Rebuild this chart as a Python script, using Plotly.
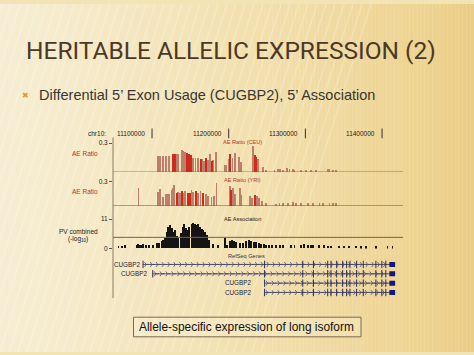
import plotly.graph_objects as go
import numpy as np

W, H = 474, 355

# ---------------- data (positions in kb on chr10) ----------------
ruler_ticks = [11100, 11200, 11300, 11400]
ruler_labels = ["11100000", "11200000", "11300000", "11400000"]

ceu_pos = [11107.4, 11110.5, 11114.8, 11117.8, 11122.6, 11132.1, 11134.3, 11138.6, 11140.8,
           11142.9, 11153.7, 11156.8, 11160.2, 11165.9, 11168.0, 11172.8, 11175.4, 11179.7,
           11183.2, 11194.9, 11197.1, 11200.5, 11204.8, 11207.9, 11213.5, 11215.7, 11231.7,
           11238.2, 11244.7, 11249.0, 11259.8, 11264.2, 11267.2, 11270.7, 11275.9, 11279.3,
           11283.7, 11285.8, 11294.5, 11301.0, 11307.5, 11314.0, 11329.1, 11331.3, 11335.6, 11339.9]
ceu_val = [0.166, 0.166, 0.166, 0.166, 0.166, 0.190, 0.183, 0.224, 0.217,
           0.207, 0.148, 0.148, 0.148, 0.138, 0.114, 0.121, 0.190, 0.121,
           0.207, 0.069, 0.069, 0.138, 0.148, 0.197, 0.155, 0.103, 0.266,
           0.138, 0.052, 0.017, 0.024, 0.028, 0.031, 0.024, 0.041, 0.031,
           0.034, 0.024, 0.017, 0.010, 0.010, 0.010, 0.034, 0.028, 0.017, 0.017]
ceu_red_pos = [11127.8, 11129.9, 11145.9, 11148.1, 11150.3, 11163.3, 11170.6, 11177.6,
               11202.2, 11233.9, 11236.0]
ceu_red_val = [0.190, 0.190, 0.197, 0.190, 0.172, 0.138, 0.148, 0.114,
               0.190, 0.172, 0.155]

yri_pos = [11082.3, 11107.4, 11110.5, 11114.8, 11117.8, 11120.0, 11122.6, 11125.6, 11127.8,
           11129.1, 11134.3, 11136.4, 11140.8, 11142.9, 11151.6, 11153.7, 11160.2, 11163.3,
           11170.2, 11173.2, 11177.6, 11180.6, 11184.1, 11201.4, 11205.7, 11207.9, 11214.4,
           11216.5, 11227.4, 11230.8, 11236.9, 11239.5, 11243.8, 11249.0, 11262.0, 11266.3,
           11270.7, 11277.2, 11283.7, 11288.0, 11294.5, 11303.1, 11309.6, 11318.3, 11322.6,
           11331.3, 11335.6, 11339.9]
yri_val = [0.214, 0.168, 0.207, 0.105, 0.144, 0.137, 0.137, 0.195, 0.214,
           0.253, 0.168, 0.156, 0.156, 0.183, 0.195, 0.168, 0.156, 0.176,
           0.137, 0.117, 0.105, 0.117, 0.273, 0.242, 0.214, 0.137, 0.214,
           0.129, 0.117, 0.098, 0.117, 0.090, 0.059, 0.027, 0.020, 0.027,
           0.027, 0.031, 0.039, 0.035, 0.027, 0.035, 0.027, 0.031, 0.035,
           0.035, 0.027, 0.027]
yri_red_pos = [11132.1, 11138.6, 11147.3, 11149.4, 11157.2, 11166.7, 11203.5, 11233.9]
yri_red_val = [0.156, 0.176, 0.156, 0.156, 0.176, 0.156, 0.195, 0.129]

pv_pos = [11056.3, 11060.7, 11065.0, 11080.1, 11082.3, 11084.5, 11086.6, 11088.8, 11092.3,
          11096.6, 11100.9, 11106.1, 11109.6, 11112.6, 11114.8, 11116.9, 11119.1, 11121.3,
          11123.4, 11125.6, 11127.8, 11129.9, 11132.1, 11134.3, 11137.3, 11139.9, 11141.6,
          11144.2, 11145.9, 11148.6, 11151.6, 11153.7, 11155.9, 11158.1, 11160.2, 11162.4,
          11164.6, 11166.7, 11168.9, 11171.1, 11174.5, 11179.7, 11186.2, 11194.9, 11197.9,
          11202.2, 11204.4, 11206.6, 11210.0, 11214.4, 11218.7, 11223.0, 11226.5, 11229.5,
          11232.6, 11236.0, 11239.5, 11242.5, 11245.5, 11249.0, 11252.5, 11256.8, 11262.0,
          11267.2, 11270.7, 11281.5, 11285.8, 11294.5, 11298.8, 11303.1, 11307.5, 11310.5,
          11318.3, 11324.8, 11329.1, 11333.4, 11344.3, 11350.8, 11357.3, 11365.9, 11372.4,
          11378.9, 11391.9, 11407.1, 11413.6]
pv_val = [0.85, 0.85, 1.2, 1.45, 1.7, 1.45, 1.45, 1.7, 1.45,
          1.2, 1.45, 2.06, 2.06, 2.9, 3.26, 3.87, 6.05, 8.1,
          8.7, 7.5, 6.3, 6.9, 4.47, 3.87, 5.68, 8.1, 8.95,
          7.5, 6.9, 8.1, 8.95, 9.67, 9.3, 8.7, 8.95, 8.1,
          7.25, 6.9, 6.05, 5.08, 3.26, 1.7, 1.45, 3.87, 1.45,
          2.9, 3.26, 2.9, 2.42, 2.06, 2.06, 2.9, 3.26, 2.9,
          2.42, 2.42, 2.06, 1.7, 1.7, 1.45, 1.45, 1.2, 1.2,
          1.45, 1.2, 1.45, 1.2, 1.45, 1.7, 1.45, 1.2, 1.45,
          1.2, 1.2, 0.97, 0.97, 0.85, 0.85, 0.85, 0.85, 0.73,
          0.73, 0.73, 0.73, 0.73]
pv_threshold = 4.2

tx_names = ["CUGBP2", "CUGBP2", "CUGBP2", "CUGBP2"]
tx_start = [11088.3, 11100.9, 11246.8, 11246.8]
tx_end = [11417.0, 11417.0, 11417.0, 11417.0]
shared_exons = [11246.8, 11296.6, 11310.5, 11329.1, 11333.4, 11340.8, 11348.6, 11353.8,
                11358.1, 11366.8, 11375.5, 11391.9, 11399.7, 11404.9]
last_exon = [11409.5, 11417.0]

# ---------------- helpers ----------------
def px(x):
    return x / W

def py(y):
    return 1 - y / H

def hexrgb(h):
    h = h.lstrip('#')
    return [int(h[i:i + 2], 16) for i in (0, 2, 4)]

fig = go.Figure()

# background gradient
stops_x = [0, 120, 240, 360, 430, 474]
stops_c = [hexrgb(c) for c in ['#f7eed4', '#f5e8c4', '#f3e1b0', '#f0d89c', '#eed38e', '#ebcc84']]
shapes = []
n = 60
for i in range(n):
    x0 = i * W / n
    x1 = (i + 1) * W / n + 0.5
    xm = (x0 + x1) / 2
    c = [int(np.interp(xm, stops_x, [s[k] for s in stops_c])) for k in range(3)]
    shapes.append(dict(type='rect', xref='paper', yref='paper', x0=px(x0), x1=px(min(x1, W)),
                       y0=0, y1=1, fillcolor='rgb(%d,%d,%d)' % tuple(c), line_width=0, layer='below'))
# faint texture: diagonal stripes on the left, vertical stripes on the right
for k in range(-20, 30):
    xb = k * 9
    shapes.append(dict(type='line', xref='paper', yref='paper', x0=px(xb), y0=0, x1=px(xb + 110), y1=1,
                       line=dict(color='rgba(255,255,255,0.22)', width=1.5), layer='below'))
for k in range(0, 60):
    xv = 250 + k * 3.8
    shapes.append(dict(type='line', xref='paper', yref='paper', x0=px(xv), y0=0, x1=px(xv), y1=1,
                       line=dict(color='rgba(255,255,255,0.13)', width=1), layer='below'))

BAR_LIGHT = '#bd7f6c'
BAR_RED = '#cf2a1c'

fig.add_trace(go.Bar(x=ceu_pos, y=ceu_val, width=1.0, marker=dict(color=BAR_LIGHT, line_width=0),
                     xaxis='x', yaxis='y'))
fig.add_trace(go.Bar(x=ceu_red_pos, y=ceu_red_val, width=1.4, marker=dict(color=BAR_RED, line_width=0),
                     xaxis='x', yaxis='y'))
fig.add_trace(go.Bar(x=yri_pos, y=yri_val, width=1.0, marker=dict(color=BAR_LIGHT, line_width=0),
                     xaxis='x', yaxis='y2'))
fig.add_trace(go.Bar(x=yri_red_pos, y=yri_red_val, width=1.4, marker=dict(color=BAR_RED, line_width=0),
                     xaxis='x', yaxis='y2'))
fig.add_trace(go.Bar(x=pv_pos, y=pv_val, width=1.25, marker=dict(color='#141414', line_width=0),
                     xaxis='x', yaxis='y3'))

# gene models
GENE = '#2f2f58'
for i, (s, e) in enumerate(zip(tx_start, tx_end)):
    r = i + 1
    fig.add_trace(go.Scatter(x=[s, e], y=[r, r], mode='lines', line=dict(color=GENE, width=0.8),
                             xaxis='x', yaxis='y4'))
    chev = np.arange(s + 4, last_exon[0] - 2, 7.6)
    fig.add_trace(go.Scatter(x=chev, y=[r] * len(chev), mode='markers',
                             marker=dict(symbol='y-right', size=4, line=dict(color='#4a4a78', width=0.8)),
                             xaxis='x', yaxis='y4'))
    ex = ([s] if s < shared_exons[0] else []) + shared_exons
    xs, ys = [], []
    for p in ex:
        xs += [p, p, None]
        ys += [r - 0.4, r + 0.4, None]
    fig.add_trace(go.Scatter(x=xs, y=ys, mode='lines', line=dict(color=GENE, width=1),
                             xaxis='x', yaxis='y4'))
    fig.add_trace(go.Scatter(x=last_exon, y=[r, r], mode='lines', line=dict(color='#16167a', width=5),
                             xaxis='x', yaxis='y4'))

# baselines / threshold
LINE = '#7a5f4c'
shapes.append(dict(type='line', xref='x domain', yref='y', x0=0, x1=1, y0=0, y1=0, line=dict(color=LINE, width=1)))
shapes.append(dict(type='line', xref='x domain', yref='y2', x0=0, x1=1, y0=0, y1=0, line=dict(color=LINE, width=1)))
shapes.append(dict(type='line', xref='x domain', yref='y3', x0=0, x1=1, y0=pv_threshold, y1=pv_threshold,
                   line=dict(color=LINE, width=1)))
# left axis line
shapes.append(dict(type='line', xref='paper', yref='paper', x0=px(113), x1=px(113), y0=py(300), y1=py(136),
                   line=dict(color='#8c7b66', width=1)))
# ruler ticks
for t in ruler_ticks:
    shapes.append(dict(type='line', xref='x', yref='paper', x0=t, x1=t, y0=py(137), y1=py(127),
                       line=dict(color='#333', width=1)))
# caption box
shapes.append(dict(type='rect', xref='paper', yref='paper', x0=px(133.5), x1=px(361), y0=py(339.5), y1=py(319.5),
                   line=dict(color='#7d6a4c', width=1), fillcolor='rgba(255,248,225,0.25)'))

ann = []
SMALL = 'Liberation Sans, Arial, sans-serif'

def A(text, x, y, size, color, xanchor='center', family=SMALL, **kw):
    d = dict(text=text, x=px(x), y=py(y), xref='paper', yref='paper', showarrow=False, xanchor=xanchor,
             yanchor='middle', font=dict(size=size, color=color, family=family))
    d.update(kw)
    ann.append(d)

A('HERITABLE ALLELIC EXPRESSION (2)', 231, 47, 24.5, '#4b3925', family='Roboto, Liberation Sans, sans-serif')
A('✖', 25, 93, 8, '#e39a2c')
A('Differential 5’ Exon Usage (CUGBP2), 5’ Association', 37, 93, 14.5, '#3a3631', xanchor='left')

A('chr10:', 108, 132.5, 6.5, '#222', xanchor='right')
for t, lab in zip(ruler_ticks, ruler_labels):
    ann.append(dict(text=lab, x=t, y=py(132.5), xref='x', yref='paper', showarrow=False, xanchor='right',
                    yanchor='middle', xshift=-5, font=dict(size=6.5, color='#222', family=SMALL)))

A('AE Ratio', 85, 153, 6.5, '#b2372a')
A('AE Ratio', 85, 191, 6.5, '#b2372a')
A('PV combined', 78, 232, 6.5, '#222')
A('(-log<sub>10</sub>)', 78, 240, 6.5, '#222')

A('AE Ratio (CEU)', 243, 141, 5.6, '#b2372a')
A('AE Ratio (YRI)', 243, 180, 5.6, '#b2372a')
A('AE Association', 243, 219, 5.6, '#222')
A('RefSeq Genes', 247, 257.5, 5.6, '#33334f')

A('CUGBP2', 142, 265.5, 6.3, '#1e1e3c', xanchor='right')
A('CUGBP2', 149, 275, 6.3, '#1e1e3c', xanchor='right')
A('CUGBP2', 253, 284.5, 6.3, '#1e1e3c', xanchor='right')
A('CUGBP2', 253, 294, 6.3, '#1e1e3c', xanchor='right')

A('Allele-specific expression of long isoform', 247, 329.5, 11.9, '#111')

yax = dict(showgrid=False, zeroline=False, showline=False, ticks='outside', ticklen=3, tickcolor='#555',
           tickwidth=1, tickfont=dict(size=6.5, color='#222', family=SMALL), anchor='x', fixedrange=True)

fig.update_layout(
    width=W, height=H, margin=dict(l=0, r=0, t=0, b=0), autosize=False,
    paper_bgcolor='#f3e4b6', plot_bgcolor='rgba(0,0,0,0)', showlegend=False, bargap=0,
    xaxis=dict(domain=[px(113), px(403)], range=[11049.1, 11427.3], visible=False, anchor='y4'),
    yaxis=dict(yax, domain=[py(171.5), py(142)], range=[0, 0.3], tickvals=[0.3], ticktext=['0.3']),
    yaxis2=dict(yax, domain=[py(206), py(181)], range=[0, 0.3], tickvals=[0.3], ticktext=['0.3']),
    yaxis3=dict(yax, domain=[py(249.5), py(219.5)], range=[0, 11], tickvals=[0, 11], ticktext=['0', '11']),
    yaxis4=dict(domain=[py(300), py(260)], range=[4.6, 0.4], visible=False, anchor='x'),
    shapes=shapes, annotations=ann,
)

fig.write_html('out.html')
